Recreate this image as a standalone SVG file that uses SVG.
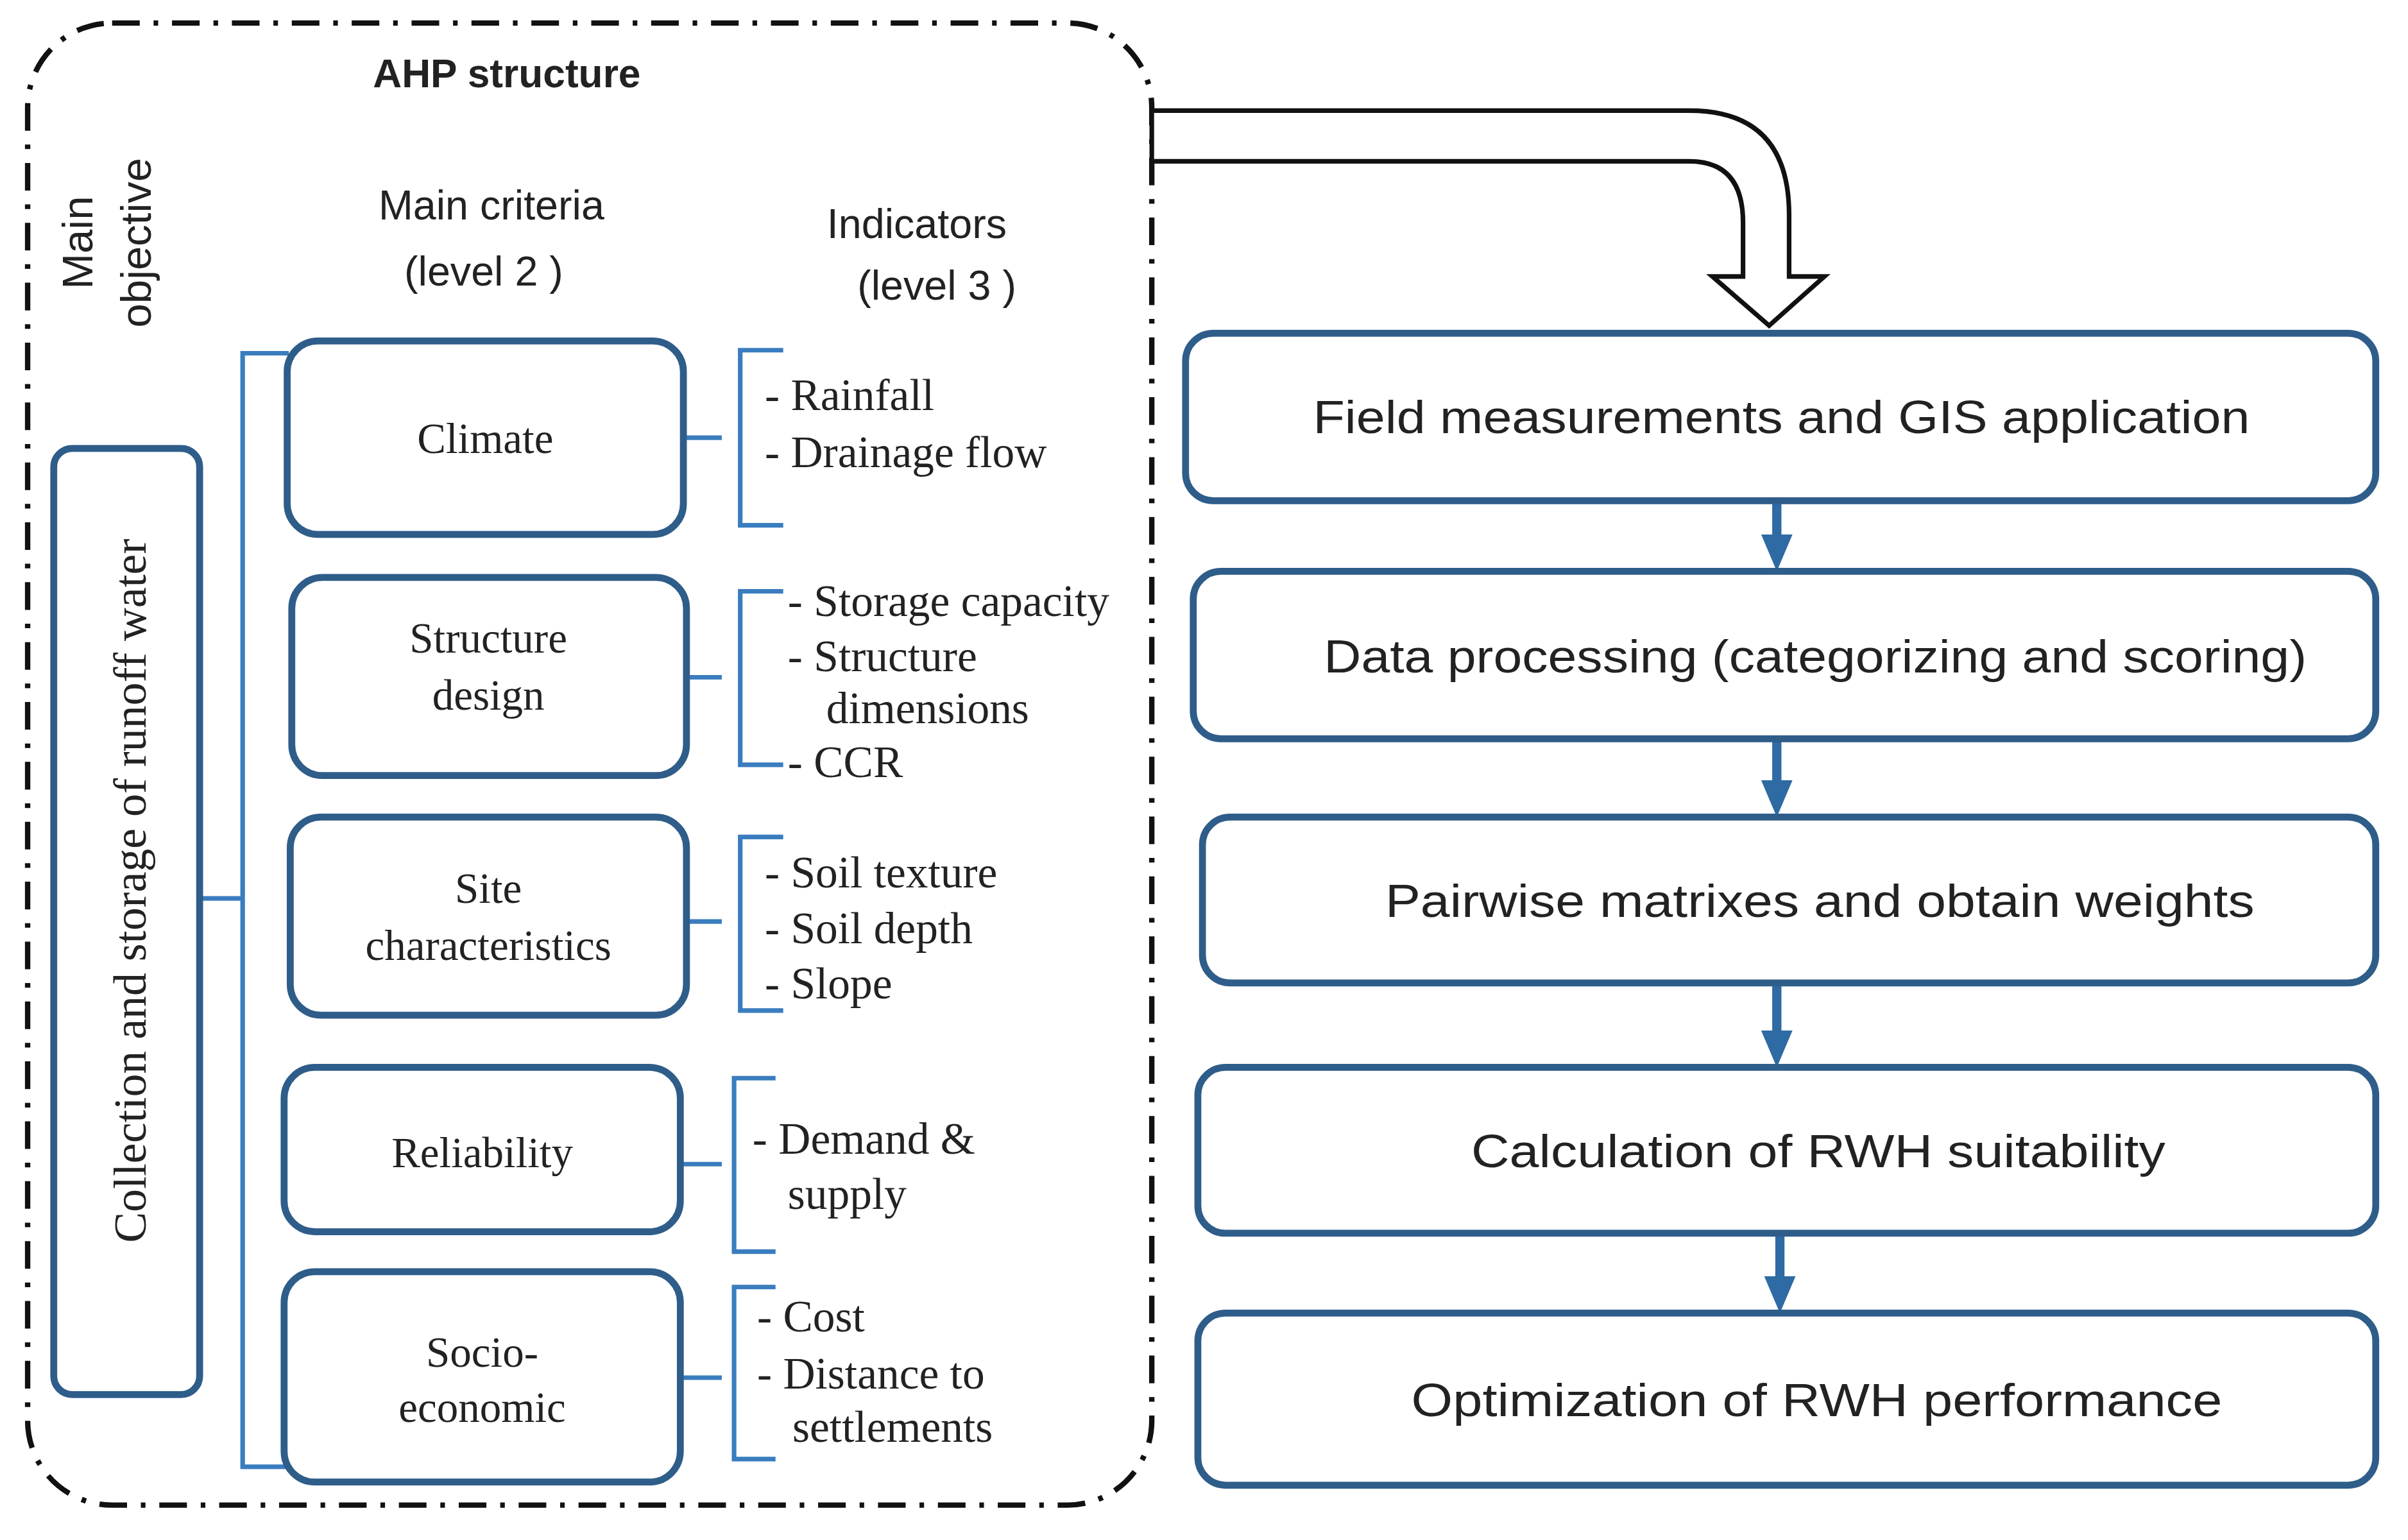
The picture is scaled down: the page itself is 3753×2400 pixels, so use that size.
<svg xmlns="http://www.w3.org/2000/svg" width="3753" height="2400" viewBox="0 0 3753 2400">
<style>
.s{font-family:"Liberation Sans",Arial,sans-serif;fill:#222}
.r{font-family:"Liberation Serif","Times New Roman",serif;fill:#222}
.b{fill:#fff;stroke:#2f5d8a;stroke-width:4.5}
.br{fill:none;stroke:#3a7dbf;stroke-width:3}
.c{fill:none;stroke:#2e6aa3;stroke-width:6}
</style>
<defs>
<marker id="ah" markerWidth="4" markerHeight="4" refX="2" refY="2" orient="auto" markerUnits="strokeWidth"><path d="M0,0.3 L4,2 L0,3.7 z" fill="#2e6aa3"/></marker>
</defs>
<rect width="3753" height="2400" fill="#fff"/>
<g transform="scale(2.3935)">
<g id="frame">
<rect x="18" y="15" width="732" height="965" rx="55" fill="none" stroke="#111" stroke-width="3.5" stroke-dasharray="18,9,3,9"/>
<text class="s" x="330" y="57" font-size="26" font-weight="bold" text-anchor="middle">AHP structure</text>
<text class="s" font-size="28" text-anchor="middle" transform="translate(60,158) rotate(-90)">Main</text>
<text class="s" font-size="28" text-anchor="middle" transform="translate(98,158) rotate(-90)">objective</text>
<text class="s" x="320" y="143" font-size="27" text-anchor="middle">Main criteria</text>
<text class="s" x="315" y="186" font-size="27" text-anchor="middle">(level 2 )</text>
<text class="s" x="597" y="155" font-size="27" text-anchor="middle">Indicators</text>
<text class="s" x="610" y="195" font-size="27" text-anchor="middle">(level 3 )</text>
</g>
<g id="connectors">
<path class="br" d="M130,585 H158 M188,230 H158 V955 H188"/>
<path class="br" d="M445,285 H470 M510,228 H482 V342 H510"/>
<path class="br" d="M447,441 H470 M510,385 H482 V498 H510"/>
<path class="br" d="M447,600 H470 M510,545 H482 V658 H510"/>
<path class="br" d="M443,758 H470 M505,702 H478 V815 H505"/>
<path class="br" d="M443,897 H470 M505,838 H478 V950 H505"/>
<path d="M750,72 H1100 Q1165,72 1165,140 V180 H1188 L1152,212 L1115,180 H1135 V145 Q1135,105 1100,105 H750 Z" fill="#fff" stroke="#111" stroke-width="3"/>
<line class="c" x1="1157" y1="328" x2="1157" y2="360" marker-end="url(#ah)"/>
<line class="c" x1="1157" y1="483" x2="1157" y2="520" marker-end="url(#ah)"/>
<line class="c" x1="1157" y1="642" x2="1157" y2="683" marker-end="url(#ah)"/>
<line class="c" x1="1159" y1="805" x2="1159" y2="843" marker-end="url(#ah)"/>
</g>
<g id="objective"><rect class="b" x="35" y="292" width="95" height="616" rx="12"/>
<text class="r" font-size="30" text-anchor="middle" transform="translate(95,580) rotate(-90)">Collection and storage of runoff water</text></g>
<g id="climate"><rect class="b" x="187" y="222" width="258" height="126" rx="20"/><text class="r" x="316" y="295" font-size="28" text-anchor="middle">Climate</text></g>
<g id="structure"><rect class="b" x="190" y="376" width="257" height="129" rx="20"/><text class="r" x="318" y="425" font-size="28" text-anchor="middle">Structure</text><text class="r" x="318" y="462" font-size="28" text-anchor="middle">design</text></g>
<g id="site"><rect class="b" x="189" y="532" width="258" height="129" rx="20"/><text class="r" x="318" y="588" font-size="28" text-anchor="middle">Site</text><text class="r" x="318" y="625" font-size="28" text-anchor="middle">characteristics</text></g>
<g id="reliability"><rect class="b" x="185" y="695" width="258" height="107" rx="20"/><text class="r" x="314" y="760" font-size="28" text-anchor="middle">Reliability</text></g>
<g id="socio"><rect class="b" x="185" y="828" width="258" height="137" rx="20"/><text class="r" x="314" y="890" font-size="28" text-anchor="middle">Socio-</text><text class="r" x="314" y="926" font-size="28" text-anchor="middle">economic</text></g>
<g id="indicators" font-size="29">
<text class="r" x="498" y="267">-  Rainfall</text>
<text class="r" x="498" y="304">-  Drainage flow</text>
<text class="r" x="513" y="401">-  Storage capacity</text>
<text class="r" x="513" y="437">-  Structure</text>
<text class="r" x="538" y="471">dimensions</text>
<text class="r" x="513" y="506">-  CCR</text>
<text class="r" x="498" y="578">-  Soil texture</text>
<text class="r" x="498" y="614">-  Soil depth</text>
<text class="r" x="498" y="650">-  Slope</text>
<text class="r" x="490" y="751">-  Demand &amp;</text>
<text class="r" x="513" y="787">supply</text>
<text class="r" x="493" y="867">-  Cost</text>
<text class="r" x="493" y="904">-  Distance to</text>
<text class="r" x="516" y="939">settlements</text>
</g>
<g id="step1"><rect class="b" x="772" y="217" width="775" height="109" rx="18"/><text class="s" x="1160" y="282" font-size="30" text-anchor="middle" textLength="610" lengthAdjust="spacingAndGlyphs">Field measurements and GIS application</text></g>
<g id="step2"><rect class="b" x="777" y="372" width="770" height="109" rx="18"/><text class="s" x="1182" y="438" font-size="30" text-anchor="middle" textLength="640" lengthAdjust="spacingAndGlyphs">Data processing (categorizing and scoring)</text></g>
<g id="step3"><rect class="b" x="783" y="532" width="764" height="108" rx="18"/><text class="s" x="1185" y="597" font-size="30" text-anchor="middle" textLength="566" lengthAdjust="spacingAndGlyphs">Pairwise matrixes and obtain weights</text></g>
<g id="step4"><rect class="b" x="780" y="695" width="767" height="108" rx="18"/><text class="s" x="1184" y="760" font-size="30" text-anchor="middle" textLength="452" lengthAdjust="spacingAndGlyphs">Calculation of RWH suitability</text></g>
<g id="step5"><rect class="b" x="780" y="855" width="767" height="112" rx="18"/><text class="s" x="1183" y="922" font-size="30" text-anchor="middle" textLength="528" lengthAdjust="spacingAndGlyphs">Optimization of RWH performance</text></g>
</g>
</svg>
